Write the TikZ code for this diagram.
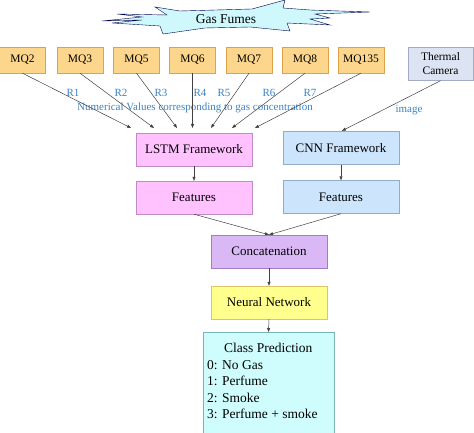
\documentclass[tikz,border=0pt]{standalone}
\usepackage{fontspec}
\setmainfont{Liberation Serif}
\usepackage{tikz}
\usetikzlibrary{arrows.meta}
\definecolor{sensorfill}{HTML}{FBD68C}
\definecolor{sensorline}{HTML}{DDA24A}
\definecolor{camfill}{HTML}{DCE3F2}
\definecolor{camline}{HTML}{A4ACC4}
\definecolor{lstmfill}{HTML}{FFC2FF}
\definecolor{lstmline}{HTML}{C08AC8}
\definecolor{cnnfill}{HTML}{CDE5FC}
\definecolor{cnnline}{HTML}{93ABC8}
\definecolor{catfill}{HTML}{DAB8F6}
\definecolor{catline}{HTML}{A47CC4}
\definecolor{nnfill}{HTML}{FFFF8E}
\definecolor{nnline}{HTML}{DEC466}
\definecolor{classfill}{HTML}{CFFDFD}
\definecolor{classline}{HTML}{78B4B4}
\definecolor{fumefill}{HTML}{CFF8FC}
\definecolor{labelblue}{HTML}{3A82C4}
\tikzset{>/.tip={Triangle[length=4pt,width=3pt]},
  box/.style={draw, inner sep=0pt, font=\fontsize{13}{15}\selectfont},
  sensor/.style={box, fill=sensorfill, draw=sensorline, minimum width=46pt, minimum height=26pt, font=\fontsize{11.5}{13}\selectfont},
  wide/.style={box, minimum width=116pt, minimum height=33pt},
  link/.style={->, draw=black!75, line width=0.5pt},
  rlabel/.style={text=labelblue, font=\fontsize{11}{13}\selectfont, inner sep=0pt}}

\begin{document}
\begin{tikzpicture}[x=1pt,y=-1pt]
\useasboundingbox (0,0) rectangle (474,433);
% gas fumes burst
\draw[fill=fumefill, draw=black!70!blue, line width=0.4pt]
  (155,7) -- (180,11) -- (252,9) -- (285,0) -- (283,8) -- (310,10) -- (370,12)
  -- (315,14) -- (330,18) -- (310,19) -- (330,25) -- (287,23) -- (290,31)
  -- (250,27) -- (205,28) -- (163,34) -- (160,26) -- (112,23) -- (142,20)
  -- (102,21) -- (142,17) -- (117,14) -- (167,15) -- cycle;
\node[font=\fontsize{13.5}{15}\selectfont] (fumes) at (226,19) {Gas Fumes};
% sensors
\node[sensor] (mq2) at (22.5,60) {MQ2};
\node[sensor] (mq3) at (80,60) {MQ3};
\node[sensor] (mq5) at (136.5,60) {MQ5};
\node[sensor] (mq6) at (192.5,60) {MQ6};
\node[sensor] (mq7) at (249,60) {MQ7};
\node[sensor] (mq8) at (305,60) {MQ8};
\node[sensor] (mq135) at (361,60) {MQ135};
\node[box, fill=camfill, draw=camline, minimum width=65pt, minimum height=33pt,
  align=center, font=\fontsize{11.5}{14}\selectfont] (cam) at (440.5,64) {Thermal\\Camera};
% frameworks
\node[wide, fill=lstmfill, draw=lstmline] (lstm) at (194,149.5) {LSTM Framework};
\node[wide, fill=cnnfill, draw=cnnline] (cnn) at (341,148) {CNN Framework};
\node[wide, fill=lstmfill, draw=lstmline] (featl) at (194,197.5) {Features};
\node[wide, fill=cnnfill, draw=cnnline] (featr) at (341,197) {Features};
\node[wide, fill=catfill, draw=catline] (cat) at (269,251.5) {Concatenation};
\node[wide, fill=nnfill, draw=nnline] (nn) at (269,302.5) {Neural Network};
\node[box, fill=classfill, draw=classline, minimum width=131pt, minimum height=112pt,
  anchor=north, align=left, text depth=0pt] (class) at (268.5,332) {};
\node[font=\fontsize{13.5}{16.5}\selectfont, align=left, anchor=north west, inner sep=0pt] (classtext) at (207,343)
  {\hspace*{17pt}Class Prediction\\0: No Gas\\1: Perfume\\2: Smoke\\3: Perfume + smoke};
% labels
\node[rlabel] (r1) at (73,93) {R1};
\node[rlabel] (r2) at (121,93) {R2};
\node[rlabel] (r3) at (161,93) {R3};
\node[rlabel] (r4) at (200,93) {R4};
\node[rlabel] (r5) at (224,93) {R5};
\node[rlabel] (r6) at (269,93) {R6};
\node[rlabel] (r7) at (310,93) {R7};
\node[rlabel] (numval) at (195,108) {Numerical Values corresponding to gas concentration};
\node[rlabel] (img) at (409,110) {image};
% arrows into lstm
\coordinate (in1) at (131,128);
\coordinate (in2) at (154,128);
\coordinate (in3) at (177,128);
\coordinate (in4) at (192.5,128);
\coordinate (in5) at (211,128);
\coordinate (in6) at (232,128);
\coordinate (in7) at (255,128);
\foreach \s/\t in {mq2/in1,mq3/in2,mq5/in3,mq6/in4,mq7/in5,mq8/in6,mq135/in7}
{
  \draw[link] (\s.south) to (\t);
}
\draw[link, shorten >=1pt] (cam.south) to (cnn.north);
\foreach \i/\j in {lstm/featl,cnn/featr,nn/class}
{
  \draw[link] (\i.south) to (\j.north);
}
\draw[link] (cat.south) to (nn.north);
\draw[link] (featl.south) to (cat.north);
\draw[link] (featr.south) to (cat.north);
\end{tikzpicture}
\end{document}
